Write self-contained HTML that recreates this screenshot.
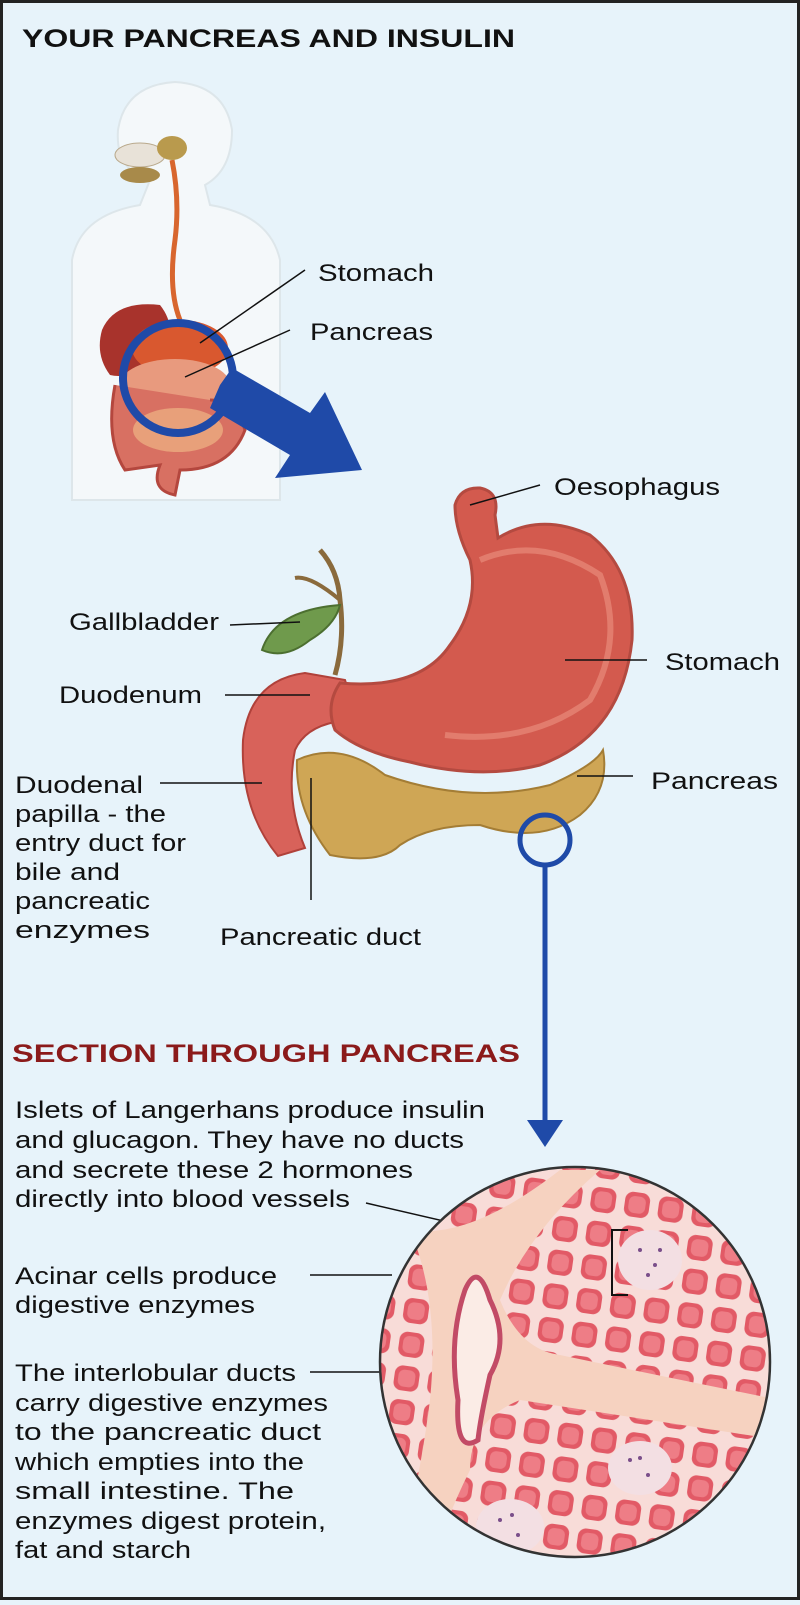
<!DOCTYPE html>
<html><head><style>
html,body{margin:0;padding:0;}
body{width:800px;height:1600px;overflow:hidden;background:#e7f3fa;}
svg text{font-family:"Liberation Sans",sans-serif;}
</style></head><body>
<svg width="800" height="1600" viewBox="0 0 800 1600" xmlns="http://www.w3.org/2000/svg">
<defs>
<pattern id="cells" x="0" y="0" width="34" height="34" patternUnits="userSpaceOnUse" patternTransform="rotate(8)">
<rect width="34" height="34" fill="#f8dcd8"/>
<rect x="4" y="4" width="25" height="25" rx="8" fill="#e25a66"/>
<rect x="8" y="8" width="17" height="17" rx="6" fill="#ee7d86"/>
</pattern>
<clipPath id="cc"><circle cx="575" cy="1362" r="195"/></clipPath>
</defs>
<rect x="0" y="0" width="800" height="1600" fill="#e7f3fa"/>
<rect x="1.5" y="1.5" width="797" height="1597" fill="none" stroke="#222" stroke-width="3"/>
<text x="22" y="47" font-size="25" font-weight="bold" fill="#111" textLength="493" lengthAdjust="spacingAndGlyphs">YOUR PANCREAS AND INSULIN</text>

<path d="M72 500 L72 260 Q80 215 140 205 L150 180 Q115 170 118 130 Q125 85 175 82 Q225 85 232 130 Q232 170 205 185 L210 205 Q270 215 280 260 L280 500 Z" fill="#f4f8fa" stroke="#dde6ea" stroke-width="2"/>
<path d="M172 160 Q180 200 175 240 Q168 290 180 320" stroke="#d8662e" stroke-width="5" fill="none"/>
<ellipse cx="140" cy="155" rx="25" ry="12" fill="#e8e2d8" stroke="#b9a98c"/>
<ellipse cx="172" cy="148" rx="15" ry="12" fill="#b99a4d"/>
<ellipse cx="140" cy="175" rx="20" ry="8" fill="#a88a4a"/>
<path d="M102 330 Q115 300 160 305 Q180 330 160 360 Q130 380 110 375 Q95 355 102 330Z" fill="#a8332c"/>
<ellipse cx="180" cy="348" rx="48" ry="28" fill="#d9582f"/>
<ellipse cx="175" cy="385" rx="55" ry="26" fill="#e89a7e"/>
<path d="M115 385 Q105 440 125 470 L160 465 Q150 490 175 495 L180 470 Q230 470 245 430 Q235 400 210 400" fill="#d87062" stroke="#b4473e" stroke-width="3"/>
<ellipse cx="178" cy="430" rx="45" ry="22" fill="#e8a07a"/>
<circle cx="178" cy="378" r="55" fill="none" stroke="#1f4aa8" stroke-width="8"/>
<polygon points="220,385 232,368 310,413 325,392 362,470 275,478 290,455 210,408" fill="#1f4aa8"/>
<line x1="200" y1="343" x2="305" y2="270" stroke="#111" stroke-width="1.5"/>
<line x1="185" y1="377" x2="290" y2="330" stroke="#111" stroke-width="1.5"/>
<text x="318" y="281" font-size="24" fill="#111" textLength="116" lengthAdjust="spacingAndGlyphs">Stomach</text>
<text x="310" y="340" font-size="24" fill="#111" textLength="123" lengthAdjust="spacingAndGlyphs">Pancreas</text>

<path d="M335 675 Q345 640 340 600 Q338 570 320 550" stroke="#8a6a3c" stroke-width="5" fill="none"/>
<path d="M340 600 Q310 575 295 578" stroke="#8a6a3c" stroke-width="4" fill="none"/>
<path d="M262 650 Q275 610 340 605 Q335 625 310 640 Q285 660 262 650Z" fill="#6f9a4c" stroke="#4c6f30" stroke-width="2"/>
<path d="M297 760 Q340 740 385 775 Q470 805 550 785 Q595 765 603 750 Q610 790 580 815 Q540 845 480 825 Q430 825 400 845 Q380 865 330 855 Q295 810 297 760Z" fill="#cfa655" stroke="#a47d35" stroke-width="2"/>
<path d="M243 740 Q250 680 305 673 L345 680 Q355 710 335 722 Q305 728 295 750 Q285 800 305 848 L278 856 Q240 810 243 740Z" fill="#d8625a" stroke="#b0413a" stroke-width="2"/>
<path d="M455 505 Q460 487 480 488 Q500 492 495 515 L498 538 Q540 512 590 535 Q635 570 632 640 Q622 735 540 765 Q480 780 410 762 Q360 752 335 730 Q325 705 340 683 Q420 690 450 645 Q480 605 470 560 Q455 530 455 505Z" fill="#d35a4e" stroke="#b44a40" stroke-width="3"/>
<path d="M480 560 Q540 535 600 575 Q625 640 590 700 Q530 745 445 735" fill="none" stroke="#e88a7a" stroke-width="6" opacity="0.7"/>
<circle cx="545" cy="840" r="25" fill="none" stroke="#1f4aa8" stroke-width="5"/>
<line x1="545" y1="865" x2="545" y2="1122" stroke="#1f4aa8" stroke-width="5"/>
<polygon points="527,1120 563,1120 545,1147" fill="#1f4aa8"/>
<g stroke="#111" stroke-width="1.5">
<line x1="470" y1="505" x2="540" y2="485"/>
<line x1="230" y1="625" x2="300" y2="622"/>
<line x1="225" y1="695" x2="310" y2="695"/>
<line x1="565" y1="660" x2="647" y2="660"/>
<line x1="577" y1="776" x2="633" y2="776"/>
<line x1="160" y1="783" x2="262" y2="783"/>
<line x1="311" y1="778" x2="311" y2="900"/>
<line x1="366" y1="1203" x2="612" y2="1260"/>
<line x1="310" y1="1275" x2="392" y2="1275"/>
<line x1="310" y1="1372" x2="475" y2="1372"/>
</g>
<g font-size="24" fill="#111">
<text x="554" y="495" textLength="166" lengthAdjust="spacingAndGlyphs">Oesophagus</text>
<text x="69" y="630" textLength="150" lengthAdjust="spacingAndGlyphs">Gallbladder</text>
<text x="59" y="703" textLength="143" lengthAdjust="spacingAndGlyphs">Duodenum</text>
<text x="665" y="670" textLength="115" lengthAdjust="spacingAndGlyphs">Stomach</text>
<text x="651" y="789" textLength="127" lengthAdjust="spacingAndGlyphs">Pancreas</text>
<text x="15" y="793" textLength="128" lengthAdjust="spacingAndGlyphs">Duodenal</text>
<text x="15" y="822" textLength="151" lengthAdjust="spacingAndGlyphs">papilla - the</text>
<text x="15" y="851" textLength="171" lengthAdjust="spacingAndGlyphs">entry duct for</text>
<text x="15" y="880" textLength="105" lengthAdjust="spacingAndGlyphs">bile and</text>
<text x="15" y="909" textLength="135" lengthAdjust="spacingAndGlyphs">pancreatic</text>
<text x="15" y="938" textLength="135" lengthAdjust="spacingAndGlyphs">enzymes</text>
<text x="220" y="945" textLength="201" lengthAdjust="spacingAndGlyphs">Pancreatic duct</text>
</g>
<text x="12" y="1062" font-size="25" font-weight="bold" fill="#8b1a1a" textLength="508" lengthAdjust="spacingAndGlyphs">SECTION THROUGH PANCREAS</text>
<g font-size="24" fill="#111">
<text x="15" y="1118" textLength="470" lengthAdjust="spacingAndGlyphs">Islets of Langerhans produce insulin</text>
<text x="15" y="1148" textLength="449" lengthAdjust="spacingAndGlyphs">and glucagon. They have no ducts</text>
<text x="15" y="1178" textLength="398" lengthAdjust="spacingAndGlyphs">and secrete these 2 hormones</text>
<text x="15" y="1207" textLength="335" lengthAdjust="spacingAndGlyphs">directly into blood vessels</text>
<text x="15" y="1284" textLength="262" lengthAdjust="spacingAndGlyphs">Acinar cells produce</text>
<text x="15" y="1313" textLength="240" lengthAdjust="spacingAndGlyphs">digestive enzymes</text>
<text x="15" y="1381" textLength="281" lengthAdjust="spacingAndGlyphs">The interlobular ducts</text>
<text x="15" y="1411" textLength="313" lengthAdjust="spacingAndGlyphs">carry digestive enzymes</text>
<text x="15" y="1440" textLength="306" lengthAdjust="spacingAndGlyphs">to the pancreatic duct</text>
<text x="15" y="1470" textLength="289" lengthAdjust="spacingAndGlyphs">which empties into the</text>
<text x="15" y="1499" textLength="279" lengthAdjust="spacingAndGlyphs">small intestine. The</text>
<text x="15" y="1529" textLength="311" lengthAdjust="spacingAndGlyphs">enzymes digest protein,</text>
<text x="15" y="1558" textLength="176" lengthAdjust="spacingAndGlyphs">fat and starch</text>
</g>
<g clip-path="url(#cc)">
<rect x="370" y="1160" width="420" height="420" fill="url(#cells)"/>
<path d="M410 1230 Q470 1240 560 1170 L600 1170 Q530 1230 500 1300 Q520 1350 560 1355 Q680 1380 780 1400 L780 1440 Q650 1420 520 1400 Q470 1420 470 1470 Q440 1530 430 1580 L395 1580 Q420 1480 430 1400 Q440 1300 410 1230Z" fill="#f6d2c0"/>
<path d="M465 1290 Q478 1260 490 1300 Q510 1340 490 1375 Q480 1420 478 1440 Q455 1455 458 1400 Q448 1340 465 1290Z" fill="#fbece6" stroke="#c24b66" stroke-width="5"/>
<ellipse cx="650" cy="1260" rx="32" ry="30" fill="#f3dfe3"/>
<ellipse cx="640" cy="1468" rx="32" ry="27" fill="#f3dfe3"/>
<ellipse cx="510" cy="1527" rx="34" ry="28" fill="#f3dfe3"/>
<g fill="#7a4e8a">
<circle cx="640" cy="1250" r="2"/><circle cx="655" cy="1265" r="2"/><circle cx="648" cy="1275" r="2"/><circle cx="660" cy="1250" r="2"/>
<circle cx="630" cy="1460" r="2"/><circle cx="648" cy="1475" r="2"/><circle cx="640" cy="1458" r="2"/>
<circle cx="500" cy="1520" r="2"/><circle cx="518" cy="1535" r="2"/><circle cx="512" cy="1515" r="2"/>
</g>
</g>
<circle cx="575" cy="1362" r="195" fill="none" stroke="#333" stroke-width="2.5"/>
<path d="M628 1230 L612 1230 L612 1295 L628 1295" fill="none" stroke="#111" stroke-width="2"/>
</svg>
</body></html>
